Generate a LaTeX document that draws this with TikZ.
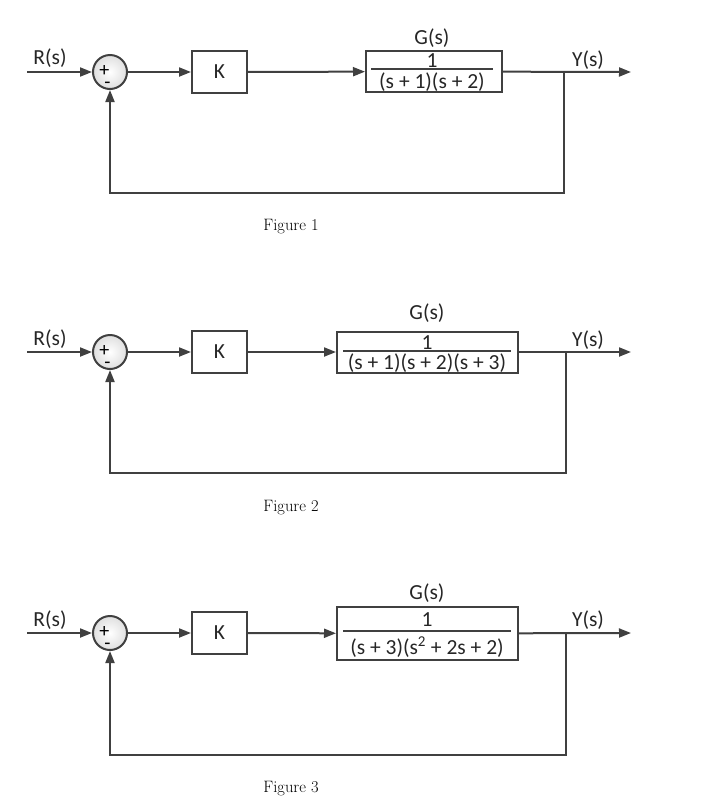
\documentclass[tikz,border=0pt]{standalone}
\usepackage{fontspec}
\newfontfamily\diagfont{Carlito}
\usetikzlibrary{arrows.meta}
\definecolor{ln}{HTML}{404040}
\newcommand{\pmsigns}{+\\[-10pt]\hspace*{5pt}-}
\begin{document}
\begin{tikzpicture}[x=1pt,y=-1pt,
  wire/.style={draw=ln,line width=2pt},
  arr/.style={wire,-{Triangle[length=12pt,width=9pt]}},
  blk/.style={draw=ln,line width=2pt,fill=white,inner sep=0pt},
  sumc/.style={circle,draw=ln,line width=2pt,inner color=white,outer color=gray!25,minimum size=34pt,inner sep=0pt},
  lbl/.style={font=\diagfont\fontsize{21.5}{24}\selectfont,inner sep=0pt,text=black!85},
  frac/.style={lbl,anchor=base},
  sgn/.style={font=\diagfont\fontsize{20}{22}\selectfont,inner sep=0pt,align=left},
  figcap/.style={font=\fontsize{16.5}{19}\selectfont,inner sep=0pt}]
\useasboundingbox (0,0) rectangle (702,812);

% ---------- Figure 1 ----------
\coordinate (in1) at (27,72);
\node[sumc] (s1) at (110,72) {};
\node[sgn] (pm1) at (105,77) {\pmsigns};
\node[blk,minimum width=55pt,minimum height=42pt] (k1) at (219.5,72) {};
\node[lbl] (kt1) at (219.5,72) {K};
\node[blk,minimum width=136pt,minimum height=41pt] (g1) at (434,71.5) {};
\node[lbl] (gl1) at (432,38) {G(s)};
\node[frac] (n1) at (432,67.5) {1};
\node[frac] (d1) at (432,88) {(s + 1)(s + 2)};
\draw[ln,line width=1.6pt] (371,69) -- (493,69);
\coordinate (b1) at (564,72);
\coordinate (o1) at (631,72);
\coordinate (f1a) at (564,193);
\coordinate (f1b) at (110,193);
\node[lbl] (r1) at (50,58) {R(s)};
\node[lbl] (y1) at (588,60) {Y(s)};
\draw[arr] (in1) -- (s1);
\draw[arr] (s1) -- (k1);
\draw[arr] (k1) -- (g1);
\draw[arr] (g1) -- (o1);
\draw[arr] (b1) -- (f1a) -- (f1b) -- (s1);
\node[figcap] (c1) at (291,227) {Figure 1};

% ---------- Figure 2 ----------
\coordinate (in2) at (27,352);
\node[sumc] (s2) at (110,352) {};
\node[sgn] (pm2) at (105,357) {\pmsigns};
\node[blk,minimum width=55pt,minimum height=42pt] (k2) at (219.5,352) {};
\node[lbl] (kt2) at (219.5,352) {K};
\node[blk,minimum width=181pt,minimum height=41pt] (g2) at (427.5,352) {};
\node[lbl] (gl2) at (427,313) {G(s)};
\node[frac] (n2) at (427,349.5) {1};
\node[frac] (d2) at (427,369) {(s + 1)(s + 2)(s + 3)};
\draw[ln,line width=1.6pt] (343,351) -- (511,351);
\coordinate (b2) at (566,352);
\coordinate (o2) at (631,352);
\coordinate (f2a) at (566,473);
\coordinate (f2b) at (110,473);
\node[lbl] (r2) at (50,339) {R(s)};
\node[lbl] (y2) at (588,340) {Y(s)};
\draw[arr] (in2) -- (s2);
\draw[arr] (s2) -- (k2);
\draw[arr] (k2) -- (g2);
\draw[arr] (g2) -- (o2);
\draw[arr] (b2) -- (f2a) -- (f2b) -- (s2);
\node[figcap] (c2) at (291,508) {Figure 2};

% ---------- Figure 3 ----------
\coordinate (in3) at (27,633);
\node[sumc] (s3) at (110,633) {};
\node[sgn] (pm3) at (105,638) {\pmsigns};
\node[blk,minimum width=55pt,minimum height=42pt] (k3) at (219.5,633) {};
\node[lbl] (kt3) at (219.5,633) {K};
\node[blk,minimum width=181pt,minimum height=53pt] (g3) at (427.5,633.5) {};
\node[lbl] (gl3) at (427,593) {G(s)};
\node[frac] (n3) at (427,626.5) {1};
\node[frac] (d3) at (427,654) {(s + 3)(s\textsuperscript{2} + 2s + 2)};
\draw[ln,line width=1.6pt] (343,631) -- (511,631);
\coordinate (b3) at (566,633);
\coordinate (o3) at (631,633);
\coordinate (f3a) at (566,755);
\coordinate (f3b) at (110,755);
\node[lbl] (r3) at (50,620) {R(s)};
\node[lbl] (y3) at (588,620) {Y(s)};
\draw[arr] (in3) -- (s3);
\draw[arr] (s3) -- (k3);
\draw[arr] (k3) -- (g3);
\draw[arr] (g3) -- (o3);
\draw[arr] (b3) -- (f3a) -- (f3b) -- (s3);
\node[figcap] (c3) at (291,789) {Figure 3};
\end{tikzpicture}
\end{document}
